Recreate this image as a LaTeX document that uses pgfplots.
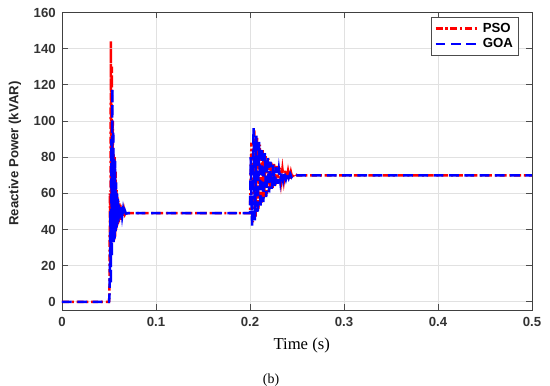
\documentclass[border=0pt]{standalone}
\usepackage{fontspec}
\setmainfont{Liberation Serif}
\setsansfont{Liberation Sans}
\usepackage{pgfplots}
\pgfplotsset{compat=1.18}
\definecolor{gridgray}{RGB}{225,225,225}
\begin{document}
\begin{tikzpicture}
\path[use as bounding box] (-44.64pt,-54.72pt) rectangle (351.36pt,223.2pt);
\begin{axis}[
  scale only axis, width=338.4pt, height=214.2pt,
  at={(0,0)}, anchor=south west,
  xmin=0, xmax=0.5, ymin=-4.5, ymax=160,
  xtick={0,0.1,0.2,0.3,0.4,0.5},
  ytick={0,20,40,60,80,100,120,140,160},
  xticklabels={0,0.1,0.2,0.3,0.4,0.5},
  grid=major, major grid style={gridgray, line width=0.6pt},
  tick align=inside, major tick length=4pt,
  tick style={black!70, line width=0.6pt},
  axis line style={black!75, line width=0.7pt},
  ticklabel style={font=\sffamily\bfseries\fontsize{9.5}{10}\selectfont, text=black!80},
  /pgf/number format/assume math mode=true,
  xticklabel style={yshift=-2pt},
  yticklabel style={xshift=-1pt},
  xlabel={Time (s)},
  xlabel style={at={(axis description cs:0.51,-0.12)}, anchor=center, font=\rmfamily\fontsize{12}{13}\selectfont},
  ylabel={Reactive Power (kVAR)},
  ylabel style={at={(axis description cs:-0.1,0.526)}, anchor=center, rotate=0, font=\sffamily\bfseries\fontsize{9.5}{10}\selectfont, text=black!85},
  legend style={at={(0.972,0.985)}, anchor=north east, draw=black!70, line width=0.6pt, fill=white,
    font=\sffamily\bfseries\fontsize{9.5}{10.5}\selectfont, inner sep=2pt, row sep=-1pt},
  legend cell align=left,
  legend image code/.code={\draw[#1] (0pt,0pt) -- (31pt,0pt);},
]
\addplot[red, line width=1.8pt, dash pattern=on 5pt off 2pt on 1.5pt off 2pt] coordinates {
(0,0) (0.05,0) (0.0505,5) (0.051,60) (0.0515,20) (0.052,144) (0.0525,40) (0.053,130)
(0.0535,34) (0.054,100) (0.0545,33) (0.055,82) (0.0555,34) (0.056,80) (0.0565,36)
(0.057,72) (0.0575,40) (0.058,62) (0.0585,42) (0.059,58) (0.0595,43) (0.060,56)
(0.0605,44) (0.061,55) (0.0615,45) (0.062,54) (0.0625,45.5) (0.063,53) (0.0635,46.5)
(0.064,52) (0.065,47.5) (0.066,51) (0.067,48.5) (0.068,49.6) (0.07,49) (0.2,49)
(0.2015,88) (0.203,44) (0.2045,95) (0.206,47.1) (0.2075,90.7) (0.209,51.3)
(0.2105,86.9) (0.212,54.7) (0.2135,83.9) (0.215,57.5) (0.2165,81.4) (0.218,59.7)
(0.2195,79.3) (0.221,61.6) (0.2225,77.6) (0.224,63.1) (0.2255,76.2) (0.227,64.4)
(0.2285,75.1) (0.230,65.4) (0.2315,74.2) (0.233,66.2) (0.2345,73.4) (0.236,66.9)
(0.2375,72.8) (0.239,67.5) (0.2405,72.3) (0.242,68.0) (0.2435,71.8) (0.245,68.4)
(0.247,70.8) (0.25,70) (0.5,70)
};
\addlegendentry{PSO}
\addplot[blue, line width=1.8pt, dash pattern=on 7pt off 4pt] coordinates {
(0,0) (0.05,0) (0.0505,3) (0.051,20) (0.0515,50) (0.052,10) (0.0525,90) (0.053,25)
(0.0535,118) (0.054,35) (0.0545,95) (0.055,33) (0.0555,80) (0.056,35) (0.0565,78)
(0.057,38) (0.0575,66) (0.058,41) (0.0585,60) (0.059,43) (0.0595,57) (0.060,44.5)
(0.0605,55) (0.061,45.5) (0.0615,53.5) (0.062,46.5) (0.063,52.5) (0.064,47.3)
(0.065,51.2) (0.066,48) (0.067,50.3) (0.068,48.8) (0.07,49) (0.2,49)
(0.20075,80) (0.20225,42) (0.20375,96) (0.20525,45) (0.20675,92) (0.20825,48.5)
(0.20975,88.5) (0.21125,52) (0.21275,85.2) (0.21425,55.2) (0.21575,82.2) (0.21725,58)
(0.21875,79.7) (0.22025,60.5) (0.22175,77.5) (0.22325,62.5) (0.22475,75.8) (0.22625,64)
(0.22775,74.4) (0.22925,65.3) (0.23075,73.2) (0.23225,66.4) (0.23375,72.3) (0.23525,67.2)
(0.23675,71.6) (0.23825,67.9) (0.23975,71.1) (0.24125,68.5) (0.24275,70.8) (0.24425,69)
(0.246,70.4) (0.25,70) (0.5,70)
};
\addlegendentry{GOA}
\end{axis}
\node[font=\rmfamily\fontsize{10}{11}\selectfont] at (150.5pt,-50.4pt) {(b)};
\end{tikzpicture}
\end{document}
